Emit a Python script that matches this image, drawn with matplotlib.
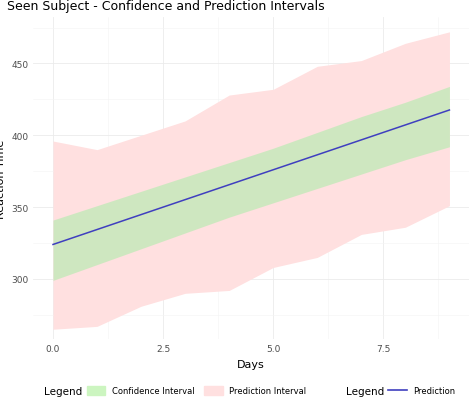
import matplotlib
matplotlib.use("Agg")
import matplotlib.pyplot as plt
from matplotlib.patches import Patch
from matplotlib.lines import Line2D
from matplotlib.offsetbox import HPacker

days = [0, 1, 2, 3, 4, 5, 6, 7, 8, 9]
pred = [324, 334.4, 344.8, 355.2, 365.6, 376, 386.4, 396.8, 407.2, 417.6]
ci_lo = [299, 310, 321, 332, 343, 353, 363, 373, 383, 392]
ci_hi = [341, 351, 361, 371, 381, 391, 402, 413, 423, 434]
pi_lo = [265, 267, 281, 290, 292, 308, 315, 331, 336, 351]
pi_hi = [396, 390, 400, 410, 428, 432, 448, 452, 464, 472]

fig = plt.figure(figsize=(4.74, 4.10), dpi=100)
ax = fig.add_axes([0.07, 0.17, 0.92, 0.785])
ax.fill_between(days, pi_lo, pi_hi, color="#ffe0e0", lw=0)
ax.fill_between(days, ci_lo, ci_hi, color="#cce8bf", lw=0, alpha=0.95)
ax.plot(days, pred, color="#3f3fbf", lw=1.1)
ax.set_xlim(-0.45, 9.45)
ax.set_ylim(258, 482)
ax.set_xticks([0, 2.5, 5, 7.5])
ax.set_xticklabels(["0.0", "2.5", "5.0", "7.5"])
ax.set_xticks([1.25, 3.75, 6.25, 8.75], minor=True)
ax.set_yticks([300, 350, 400, 450])
ax.set_yticks([275, 325, 375, 425, 475], minor=True)
ax.grid(True, which="major", color="#ebebeb", lw=0.6)
ax.grid(True, which="minor", color="#f4f4f4", lw=0.4)
ax.set_axisbelow(True)
for s in ax.spines.values():
    s.set_visible(False)
ax.tick_params(length=0, labelsize=6.5, colors="#4d4d4d", which="both")
ax.set_xlabel("Days", fontsize=8)
ax.set_ylabel("Reaction Time", fontsize=8)
ax.set_title("Seen Subject - Confidence and Prediction Intervals", fontsize=9, loc="left", x=-0.06)

h1 = [Patch(color="#ccf5c0"), Patch(color="#ffe0e0")]
l1 = fig.legend(h1, ["Confidence Interval", "Prediction Interval"], loc="center",
                bbox_to_anchor=(0.37, 0.045), ncol=2, frameon=False, fontsize=6,
                title="Legend", title_fontsize=7.5, handlelength=2.2, handleheight=1.4,
                columnspacing=1.2)
box = l1._legend_box
box.__class__ = HPacker
box.align = "center"
h2 = [Line2D([0], [0], color="#3f3fbf", lw=1.2)]
l2 = fig.legend(h2, ["Prediction"], loc="center", bbox_to_anchor=(0.845, 0.045),
                frameon=False, fontsize=6, title="Legend", title_fontsize=7.5, handlelength=2.2)
box2 = l2._legend_box
box2.__class__ = HPacker
box2.align = "center"
fig.savefig("out.png", dpi=100)
